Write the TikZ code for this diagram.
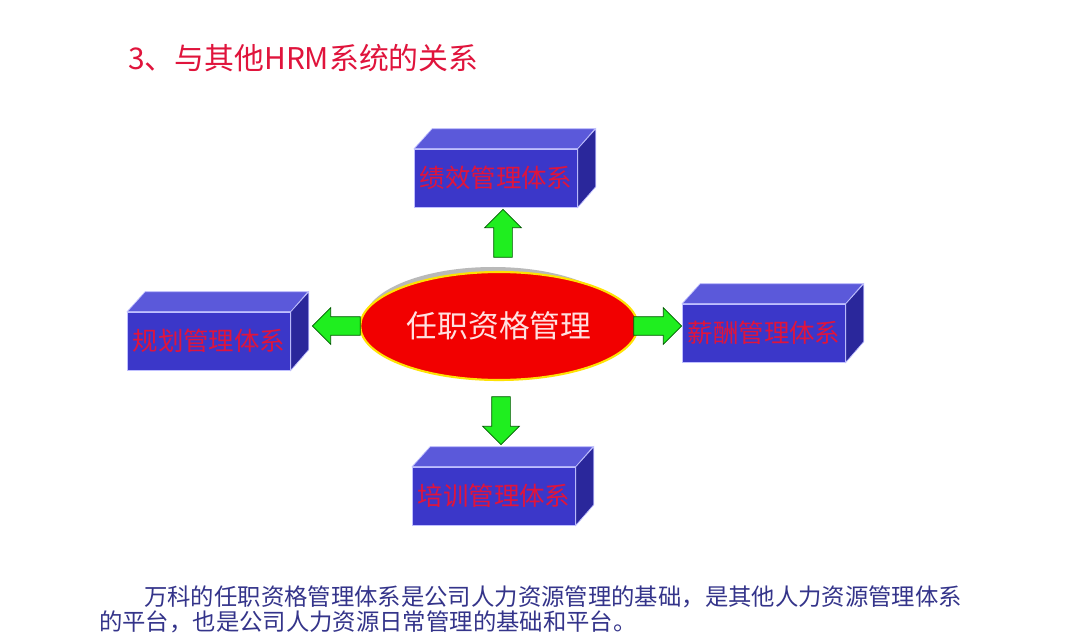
\documentclass[tikz,border=0pt]{standalone}
\usepackage{fontspec}
\setmainfont{Liberation Serif}
\newfontfamily\cjk{Noto Sans CJK SC}
\usetikzlibrary{shapes.geometric,shapes.arrows}

\definecolor{boxblue}{HTML}{3B37C9}
\definecolor{topblue}{HTML}{5B59DA}
\definecolor{sideblue}{HTML}{2A279B}
\definecolor{labelred}{HTML}{E0143C}
\definecolor{flowgreen}{HTML}{1FEE1F}
\definecolor{textnavy}{HTML}{34348A}

\begin{document}
\begin{tikzpicture}[
  x=0.02cm,y=-0.02cm,
  slab/.style={draw=blue!25!white,fill=boxblue,minimum width=3.26cm,minimum height=1.16cm,inner sep=0pt,
    font=\cjk\fontsize{14.5}{14.5}\selectfont,text=labelred},
  flow/.style={single arrow,draw=green!35!black,fill=flowgreen,minimum height=0.96cm,inner sep=0.18cm,
    single arrow head extend=0.18cm},
  core/.style={ellipse,fill=red!95!black,draw=yellow!85!orange,line width=1.2pt,minimum width=5.16cm,minimum height=2.16cm,
    font=\cjk\fontsize{17.5}{17.5}\selectfont,text=red!12!white}
]
  \useasboundingbox[fill=white] (0,0) rectangle (1080,635);

  \node[anchor=west,font=\cjk\fontsize{17}{17}\selectfont,text=labelred] (title) at (122,58) {3、与其他HRM系统的关系};

  % the four systems
  \node[slab] (perf) at (496,178) {绩效管理体系};
  \node[slab] (plan) at (209,341) {规划管理体系};
  \node[slab] (pay) at (764,333) {薪酬管理体系};
  \node[slab] (train) at (494,496) {培训管理体系};
  \foreach \b in {perf,plan,pay,train}{
    \fill[topblue,draw=blue!25!white] (\b.north west) -- ++(18,-20) -- ++(163,0) -- (\b.north east) -- cycle;
    \fill[sideblue,draw=blue!25!white] (\b.north east) -- ++(18,-20) -- ++(0,58) -- (\b.south east) -- cycle;
  }

  % centre
  \fill[gray!55] (493,321) ellipse (129 and 54);
  \node[core] (qual) at (499,326) {任职资格管理};

  \node[flow,shape border rotate=90] (toperf) at (503,238) {};
  \node[flow,shape border rotate=180] (toplan) at (341,326) {};
  \node[flow] (topay) at (653,326) {};
  \node[flow,shape border rotate=270] (totrain) at (501,416) {};

  \node[anchor=west,font=\cjk\fontsize{13.3}{13.3}\selectfont,text=textnavy] (para1) at (138,597) {万科的任职资格管理体系是公司人力资源管理的基础，是其他人力资源管理体系};
  \node[anchor=west,font=\cjk\fontsize{13.3}{13.3}\selectfont,text=textnavy] (para2) at (93,622) {的平台，也是公司人力资源日常管理的基础和平台。};
\end{tikzpicture}
\end{document}
